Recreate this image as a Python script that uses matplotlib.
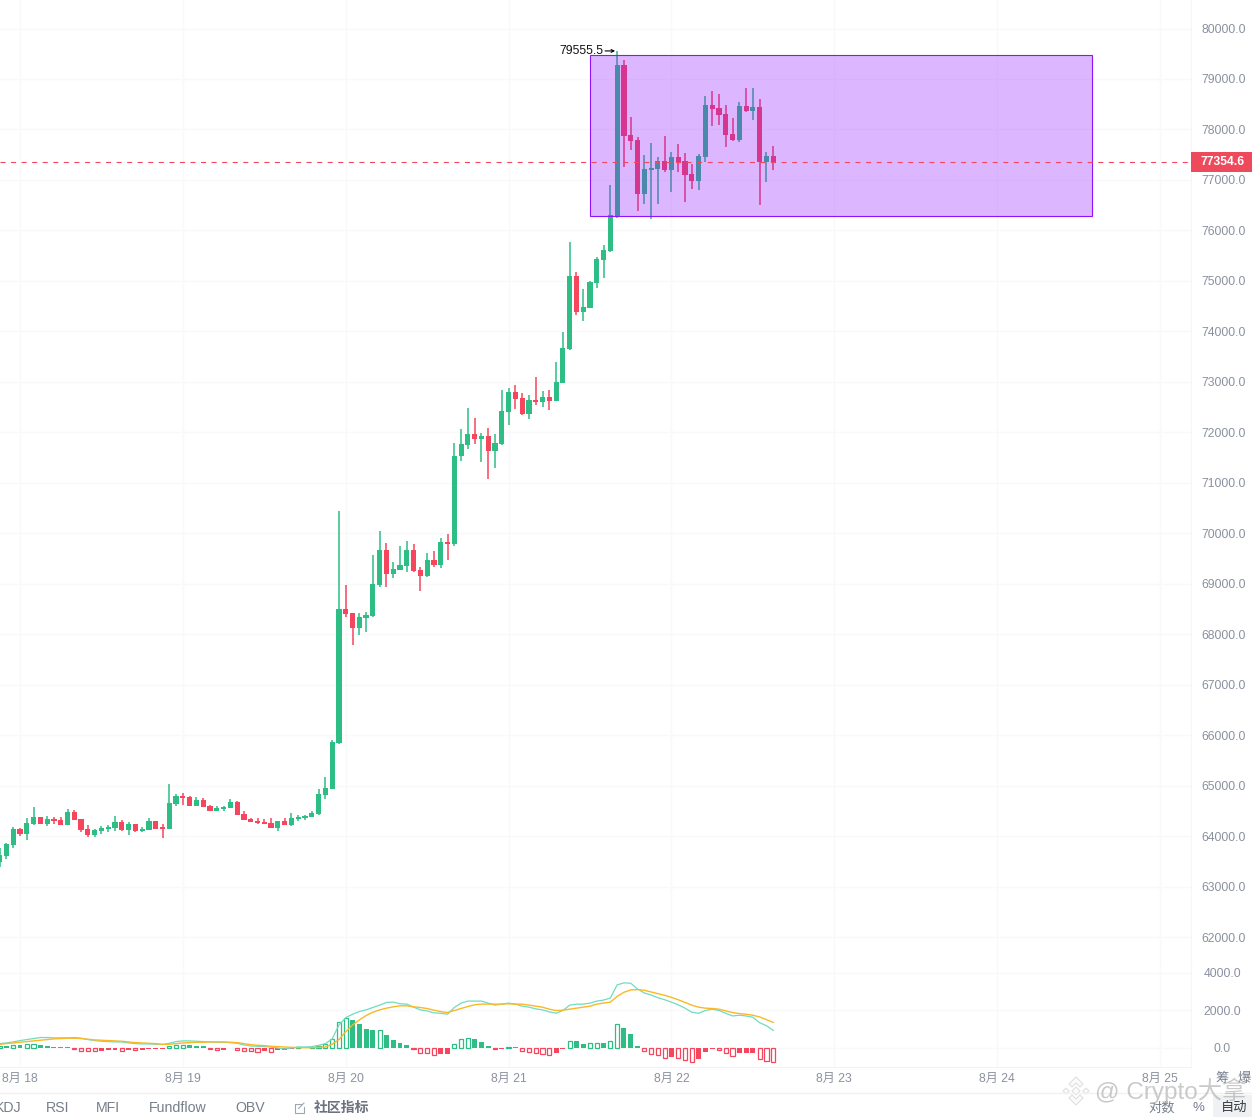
import matplotlib
matplotlib.use("Agg")
import matplotlib.pyplot as plt
from matplotlib.patches import Rectangle, Polygon

FONT = ['Liberation Sans', 'Noto Sans CJK SC', 'DejaVu Sans']
plt.rcParams['font.family'] = FONT

opens = [63503,63622,63840,64150,64057,64249,64387,64255,64348,64328,64236,64486,64348,64150,64031,64117,64156,64170,64288,64137,64249,64110,64137,64308,64189,
64150,64651,64803,64783,64612,64724,64605,64513,64546,64572,64684,64447,64348,64308,64288,64269,64170,64308,64236,64348,64368,64394,64453,64830,64942,
65853,68506,68427,68130,68328,68367,68981,69674,69199,69278,69357,69674,69278,69159,69476,69377,69832,69793,
71535,71753,71971,71872,71931,71634,71773,72406,72802,72684,72367,72644,72604,72703,72624,72981,73654,75099,74386,74466,74961,75416,75594,76287,
79277,77891,77792,76723,77198,77218,77376,77198,77455,77376,77119,76980,77455,78485,78426,78307,77911,77792,78465,78366,78445,77356,77475]
highs = [63767,63866,64189,64170,64374,64585,64387,64407,64394,64381,64539,64519,64348,64229,64143,64209,64229,64407,64321,64295,64249,64183,64361,64308,64249,
65041,64843,64856,64797,64777,64764,64625,64612,64612,64744,64698,64506,64361,64374,64354,64368,64308,64361,64467,64427,64427,64500,64948,65173,65912,
70446,68981,68427,68420,68446,69582,70044,69806,69436,69753,69859,69793,69337,69615,69654,69912,69991,71793,
72070,72486,72288,71991,72090,71964,72842,72882,72941,72776,72743,73099,72822,72842,73396,73990,75772,75178,74842,75000,75475,75713,76901,79555.5,
79376,78247,77851,77488,77726,77455,77871,77554,77713,77541,77317,77515,78663,78756,78703,78485,78228,78544,78828,78822,78597,77561,77673]
lows = [63404,63549,63767,64011,63932,64229,64242,64216,64255,64229,64229,64321,64097,63985,63991,64044,64097,64117,64117,64038,64097,64084,64130,64150,63965,
64150,64605,64632,64605,64605,64585,64506,64506,64513,64566,64427,64328,64288,64242,64249,64170,64117,64229,64209,64315,64321,64387,64434,64750,64942,
65833,68354,67793,67998,68057,68347,68941,68935,69120,69278,69238,69238,68862,69139,69337,69318,69476,69753,
71436,71680,71773,71423,71086,71298,71753,72149,72466,72347,72268,72545,72505,72446,72624,72981,73634,74327,74208,74466,74862,75060,75574,76248,
77251,77594,76386,76525,76234,76531,77152,76756,77158,76564,76822,76802,77356,78063,78089,77647,77779,77752,78340,78181,76505,76960,77198]
closes = [63635,63853,64150,64051,64262,64387,64255,64348,64315,64236,64486,64328,64137,64038,64130,64170,64189,64288,64137,64249,64117,64143,64308,64156,64156,
64665,64803,64770,64612,64724,64592,64513,64566,64585,64684,64434,64335,64288,64269,64255,64176,64308,64236,64368,64387,64407,64467,64843,64962,65872,
68506,68407,68130,68347,68387,69001,69674,69199,69298,69377,69674,69258,69159,69476,69377,69832,69793,71535,
71773,71971,71872,71931,71634,71793,72426,72802,72664,72367,72644,72604,72703,72624,73000,73674,75099,74386,74485,74980,75436,75614,76307,79277,
77871,77772,76723,77218,77238,77376,77198,77455,77356,77099,76980,77475,78485,78406,78287,77891,77792,78465,78366,78445,77356,77475,77343]
first_index = -3

hist = [90,90,180,162,198,216,180,108,72,72,54,-54,-144,-162,-180,-162,-126,-126,-144,-90,-126,-108,-72,-72,-54,
90,162,180,144,90,90,-54,-90,-90,-18,-108,-162,-180,-198,-180,-198,-90,-90,-54,36,36,54,108,216,504,
1404,1620,1494,1278,1008,954,972,684,414,252,144,-54,-252,-270,-396,-306,-306,234,504,558,468,306,108,-54,-54,72,72,
-162,-198,-252,-306,-360,-270,-54,396,360,234,252,288,288,396,1260,1062,738,90,-162,-342,-396,-540,-504,-540,-648,-756,-612,-216,-72,-108,-270,-450,-288,-270,-252,-594,-684,-756]
dif = [234,270,324,396,450,504,558,558,540,540,540,558,522,450,396,360,342,324,324,270,234,216,216,198,180,
252,342,378,378,360,342,324,306,306,288,252,162,108,90,72,54,0,-54,0,54,54,72,144,234,486,
1224,1620,1800,1944,2034,2160,2286,2430,2448,2358,2340,2178,2034,1980,1872,1854,1800,2160,2394,2502,2502,2502,2394,2286,2340,2394,2340,
2232,2178,2088,2034,1926,1854,1998,2286,2340,2340,2394,2502,2556,2664,3366,3474,3456,3150,2934,2826,2682,2574,2448,2304,2124,1908,1854,1998,2070,1998,1854,1710,1746,1710,1638,1350,1188,936]
dea = [198,234,270,306,342,378,414,450,486,504,522,522,504,468,432,414,396,378,360,324,288,270,252,234,198,
198,234,270,288,306,306,324,324,324,306,288,234,180,144,126,90,72,54,36,18,18,18,36,54,198,
450,864,1224,1494,1728,1908,2034,2124,2196,2250,2250,2196,2160,2106,2016,1944,1890,1998,2106,2214,2304,2340,2340,2340,2340,2358,2340,
2340,2286,2232,2178,2070,1998,2016,2070,2124,2178,2232,2340,2394,2448,2754,2970,3096,3114,3078,2988,2898,2808,2700,2574,2430,2286,2178,2124,2106,2070,1980,1890,1836,1800,1746,1656,1512,1368]

price_ticks = list(range(62000, 80001, 1000))
macd_ticks = [0, 2000, 4000]
day_labels = ['8月 18', '8月 19', '8月 20', '8月 21', '8月 22', '8月 23', '8月 24', '8月 25']
bars_per_day = 24
last_price = 77354.6
peak_price = 79555.5
box_price = (76287, 79485)
box_index = (84.0, 158.0)
menu = ['KDJ', 'RSI', 'MFI', 'Fundflow', 'OBV']

W, H = 1252, 1117
GREEN, RED = '#2ebd85', '#f6465d'
GRID = '#f9f9fa'
TXT = '#8a919e'
fig = plt.figure(figsize=(W / 100, H / 100), dpi=100, facecolor='white')

def rect(x0, y0, x1, y1):
    return [x0 / W, 1 - y1 / H, (x1 - x0) / W, (y1 - y0) / H]

ax = fig.add_axes(rect(0, 0, 1191, 964))
ax2 = fig.add_axes(rect(0, 964, 1191, 1067))
over = fig.add_axes([0, 0, 1, 1], zorder=20)
over.set_xlim(0, W); over.set_ylim(H, 0); over.axis('off'); over.patch.set_alpha(0)

step = 162.86 / 24
xlim = (-20 / step, (1191 - 20) / step)
day_pos = [k * bars_per_day for k in range(len(day_labels))]
idx = [first_index + k for k in range(len(opens))]

for a in (ax, ax2):
    a.set_xlim(*xlim)
    a.set_xticks(day_pos)
    a.grid(True, color=GRID, lw=1)
    a.set_axisbelow(True)
    a.yaxis.tick_right()
    for s in a.spines.values():
        s.set_visible(False)
    a.spines['right'].set_visible(True)
    a.spines['right'].set_color('#f6f6f7')
ax.spines['bottom'].set_visible(True)
ax.spines['bottom'].set_color('#f6f6f7')
ax2.spines['bottom'].set_visible(True)
ax2.spines['bottom'].set_color('#f3f3f4')

# price panel
ax.set_ylim(80000 - (964 - 28.5) * 19.802, 80000 + 28.5 * 19.802)
ax.set_yticks(price_ticks)
ax.set_yticklabels([f'{v:.1f}' for v in price_ticks], ha='center', color=TXT, fontsize=8.7)
ax.tick_params(axis='y', length=0, pad=23.5)
ax.tick_params(axis='x', length=0, labelbottom=False)
colors = [GREEN if c >= o else RED for o, c in zip(opens, closes)]
ax.vlines(idx, lows, highs, colors=colors, lw=1.1, zorder=3)
ax.bar(idx, [abs(c - o) for o, c in zip(opens, closes)], bottom=[min(o, c) for o, c in zip(opens, closes)],
       width=0.76, color=colors, lw=0, zorder=4)
ax.add_patch(Rectangle((box_index[0], box_price[0]), box_index[1] - box_index[0], box_price[1] - box_price[0],
                       facecolor=(142 / 255, 18 / 255, 1, 0.3), edgecolor='#9013fe', lw=0.8, zorder=5))
ax.axhline(last_price, color='#f6465d', lw=0.8, dashes=(4.5, 5), zorder=6)
ax.annotate('', xy=(88 - 0.3, peak_price), xytext=(-10, 0), textcoords='offset pixels',
            arrowprops=dict(arrowstyle='->', color='black', lw=0.8, mutation_scale=5, shrinkA=0, shrinkB=0), zorder=7)
ax.annotate(f'{peak_price:.1f}', xy=(88 - 0.3, peak_price), xytext=(-12, 0), textcoords='offset pixels',
            ha='right', va='center', fontsize=8.7, color='#111111', zorder=7)

# MACD panel
ax2.set_ylim(-19 * 53.33, 84 * 53.33)
ax2.set_yticks(macd_ticks)
ax2.set_yticklabels([f'{v:.1f}' for v in macd_ticks], ha='center', color=TXT, fontsize=8.7)
ax2.tick_params(axis='y', length=0, pad=22.5)
ax2.set_xticklabels(day_labels, color=TXT, fontsize=8.7)
ax2.tick_params(axis='x', length=0, pad=4.2)
prev = [0] + hist[:-1]
for i, h, p in zip(idx, hist, prev):
    c = GREEN if h >= 0 else RED
    hollow = (h > p) if h >= 0 else (h < p)
    if hollow:
        ax2.bar(i, h, width=0.62, facecolor='white', edgecolor=c, lw=0.9, zorder=3)
    else:
        ax2.bar(i, h, width=0.72, color=c, lw=0, zorder=3)
ax2.plot(idx, dif, color='#6fdcc0', lw=0.9, zorder=4)
ax2.plot(idx, dea, color='#fbb824', lw=1.0, zorder=5)

# price tag
over.add_patch(Rectangle((1191, 152), 61, 20, facecolor='#ef4a5b', edgecolor='none'))
over.text(1223, 162, f'{last_price:.1f}', color='white', fontsize=8.7, fontweight='bold', ha='center', va='center')

# bottom bar
over.plot([0, W], [1092.5, 1092.5], color='#f0f1f2', lw=1)
menu_x = [8, 58, 108, 178, 250]
for m, x in zip(menu, menu_x):
    over.text(x, 1108, m, color='#767e8b', fontsize=10.2, ha='center', va='center')
over.text(314, 1108, '社区指标', color='#6b7280', fontsize=10, fontweight='bold', ha='left', va='center')
over.plot([301, 294.5, 294.5, 303.5, 303.5], [1103.5, 1103.5, 1112.5, 1112.5, 1107], color='#a0a6b0', lw=0.8)
over.plot([298.5, 304], [1108.5, 1103], color='#a0a6b0', lw=0.8)
over.add_patch(Rectangle((1213, 1095), 39, 22, facecolor='#f0f1f2', edgecolor='none'))
over.text(1161.5, 1108, '对数', color='#767e8b', fontsize=9.5, ha='center', va='center')
over.text(1198, 1108, '%', color='#767e8b', fontsize=9.5, ha='center', va='center')
over.text(1234, 1108, '自动', color='#333a45', fontsize=9.5, ha='center', va='center')
over.text(1222, 1079, '筹', color='#767e8b', fontsize=9.5, ha='center', va='center')
over.text(1244, 1079, '爆', color='#767e8b', fontsize=9.5, ha='center', va='center')

# watermark
cx, cy = 1076, 1091
wm = dict(facecolor='#fafafa', edgecolor='#d8d8d8', lw=0.8, alpha=0.8)
for dx, dy, r in [(0, 0, 4), (-10, 0, 3), (10, 0, 3)]:
    over.add_patch(Polygon([(cx + dx - r, cy + dy), (cx + dx, cy + dy - r), (cx + dx + r, cy + dy), (cx + dx, cy + dy + r)], **wm))
over.add_patch(Polygon([(cx, cy - 14), (cx + 7, cy - 7), (cx + 4, cy - 4), (cx, cy - 8), (cx - 4, cy - 4), (cx - 7, cy - 7)], **wm))
over.add_patch(Polygon([(cx, cy + 14), (cx + 7, cy + 7), (cx + 4, cy + 4), (cx, cy + 8), (cx - 4, cy + 4), (cx - 7, cy + 7)], **wm))
over.text(1095, 1091, '@ Crypto大拿', color='#a0a0a0', alpha=0.55, fontsize=17.5, ha='left', va='center')

fig.savefig('out.png', dpi=100, facecolor='white')
